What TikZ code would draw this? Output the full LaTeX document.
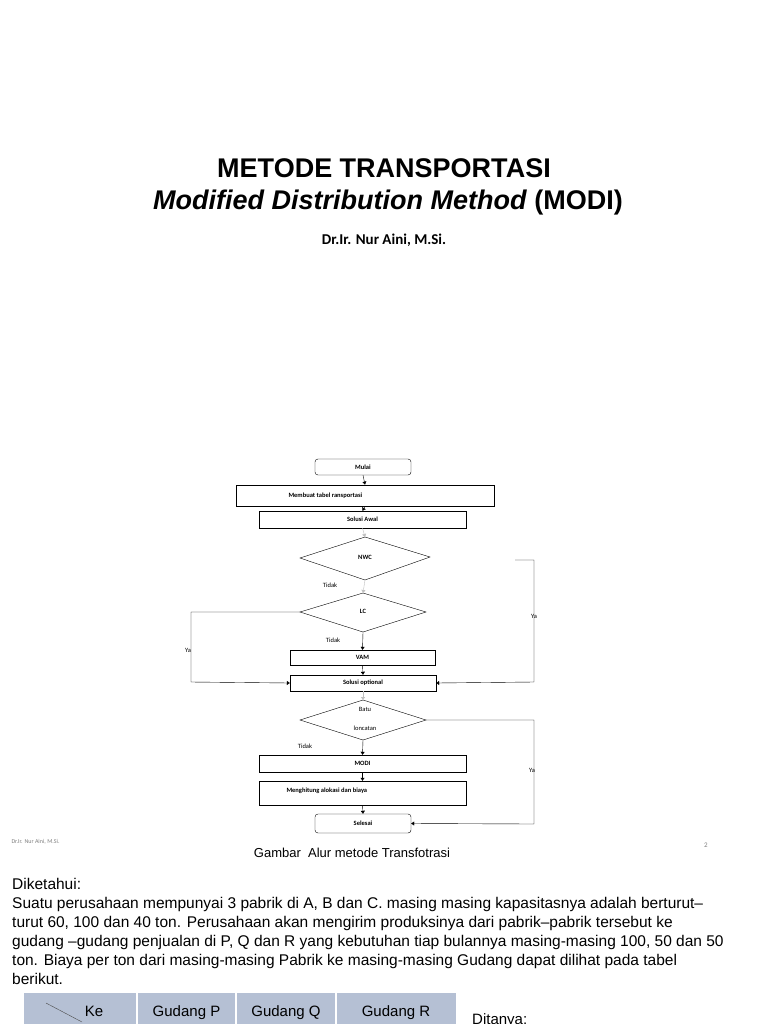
\documentclass[tikz,border=0pt]{standalone}
\usepackage{fontspec}
\setmainfont{Liberation Sans}
\newfontfamily\carfont{Carlito}
\usetikzlibrary{arrows.meta}
\begin{document}
\begin{tikzpicture}[x=1pt,y=-1pt,
 box/.style={draw,thick,minimum height=#1,inner sep=0pt},
 fc/.style={font=\carfont\bfseries\fontsize{6.5}{7}\selectfont},
 lbl/.style={font=\carfont\fontsize{6.5}{7}\selectfont},
 arr/.style={-{Triangle[length=3pt,width=4pt]},thin},
 para/.style={anchor=base west,inner sep=0pt,font=\fontsize{15.5}{18}\selectfont},
 th/.style={anchor=base,inner sep=0pt,font=\fontsize{15}{18}\selectfont}]
\useasboundingbox (0,0) rectangle (768,1024);
\fill[white] (0,0) rectangle (768,1024);
\node[font=\bfseries\fontsize{27}{30}\selectfont] (t1) at (384,168) {METODE TRANSPORTASI};
\node[font=\bfseries\fontsize{27}{30}\selectfont] (t2) at (388,203) {\textit{Modified Distribution Method} (MODI)};
\node[font=\carfont\bfseries\fontsize{15}{18}\selectfont] (au) at (384,240) {Dr.Ir. Nur Aini, M.Si.};
% flowchart
\node[draw,thin,rounded corners=3pt,minimum width=96pt,minimum height=16pt,fc] (mul) at (363,467) {Mulai};
\node[box=21pt,minimum width=258pt] (tab) at (365,495.5) {};
\node[fc,anchor=west] (tabt) at (285,495.5) {Membuat tabel ransportasi};
\node[box=17pt,minimum width=207pt,draw,thin,fc] (awal) at (362.5,519.5) {Solusi Awal};
\coordinate (nT) at (365,537); \coordinate (nL) at (300,558); \coordinate (nB) at (365,580); \coordinate (nR) at (430,557);
\draw[thin] (nT)--(nR)--(nB)--(nL)--cycle; \node[fc] (nwc) at (365,557) {NWC};
\coordinate (lT) at (363,593); \coordinate (lL) at (300,612); \coordinate (lB) at (363,632); \coordinate (lR) at (426,612);
\draw[thin] (lT)--(lR)--(lB)--(lL)--cycle; \node[fc] (lc) at (363,611) {LC};
\node[box=15pt,draw,thin,minimum width=145pt,fc] (vam) at (362.5,657.5) {VAM};
\node[box=16pt,draw,thin,minimum width=146pt,fc] (opt) at (363,683) {Solusi optional};
\coordinate (bT) at (363,700); \coordinate (bL) at (300,720); \coordinate (bB) at (363,740); \coordinate (bR) at (426,720);
\draw[thin] (bT)--(bR)--(bB)--(bL)--cycle;
\node[lbl] (bt1) at (365,709) {Batu}; \node[lbl] (bt2) at (365,728) {loncatan};
\node[box=17pt,draw,thin,minimum width=207pt,fc] (modi) at (362.5,763.5) {MODI};
\node[box=24pt,draw,thin,minimum width=207pt] (hit) at (362.5,793) {};
\node[fc,anchor=west] (hitt) at (283,791) {Menghitung alokasi dan biaya};
\node[draw,thin,rounded corners=3pt,minimum width=96pt,minimum height=19pt,fc] (sel) at (363,823.5) {Selesai};
\node[lbl] at (330,585) {Tidak}; \node[lbl] at (333,640) {Tidak}; \node[lbl] at (305,746) {Tidak};
\node[lbl] at (188,650) {Ya}; \node[lbl] at (534,616) {Ya}; \node[lbl] at (532,770) {Ya};
% arrows
\draw[arr] (mul.south) -- (tab.north);
\draw[arr] (tab.south) -- (awal.north);
\draw[arr,gray!50] (awal.south) -- (nT);
\draw[arr,gray!50] (nB) -- (lT);
\draw[arr] (lB) -- (vam.north);
\draw[arr] (vam.south) -- (opt.north);
\draw[arr,gray!50] (opt.south) -- (bT);
\draw[arr] (bB) -- (modi.north);
\draw[arr] (modi.south) -- (hit.north);
\draw[arr] (hit.south) -- (sel.north);
\draw[arr] (lL) -- (191,612) -- (191,682) -- (opt.west);
\coordinate (ny) at (515,560);
\draw[arr] (ny) -- (534,560) -- (534,682) -- (opt.east);
\draw[arr] (bR) -- (534,720) -- (534,824) -- (sel.east);
% footer
\node[font=\carfont\fontsize{6}{7}\selectfont,gray,anchor=west] (fa) at (8,842) {Dr.Ir. Nur Aini, M.Si.};
\node[font=\carfont\fontsize{7}{8}\selectfont,gray] (pg) at (706,845) {2};
\node[font=\fontsize{13}{15}\selectfont] (cap) at (352,853) {Gambar\ \ Alur metode Transfotrasi};
\node[para] (p0) at (12,889) {Diketahui:};
\node[para] (p1) at (12,908) {Suatu perusahaan mempunyai 3 pabrik di A, B dan C. masing masing kapasitasnya adalah berturut–};
\node[para] (p2) at (12,927) {turut 60, 100 dan 40 ton. Perusahaan akan mengirim produksinya dari pabrik–pabrik tersebut ke};
\node[para] (p3) at (12,946) {gudang –gudang penjualan di P, Q dan R yang kebutuhan tiap bulannya masing-masing 100, 50 dan 50};
\node[para] (p4) at (12,965) {ton. Biaya per ton dari masing-masing Pabrik ke masing-masing Gudang dapat dilihat pada tabel};
\node[para] (p5) at (12,984) {berikut.};
% table
\fill[fill={rgb,255:red,181;green,192;blue,212}] (24,993) rectangle (456,1030);
\draw[white,line width=1.5pt] (137,993)--(137,1030) (236,993)--(236,1030) (336,993)--(336,1030);
\draw[gray!60!black,thin] (46,1003) -- (82,1022);
\node[th] (c1) at (94,1016) {Ke};
\node[th] (c2) at (186.5,1016) {Gudang P};
\node[th] (c3) at (286,1016) {Gudang Q};
\node[th] (c4) at (396,1016) {Gudang R};
\node[th,anchor=base west] (dt) at (472,1024) {Ditanya:};
\end{tikzpicture}
\end{document}
